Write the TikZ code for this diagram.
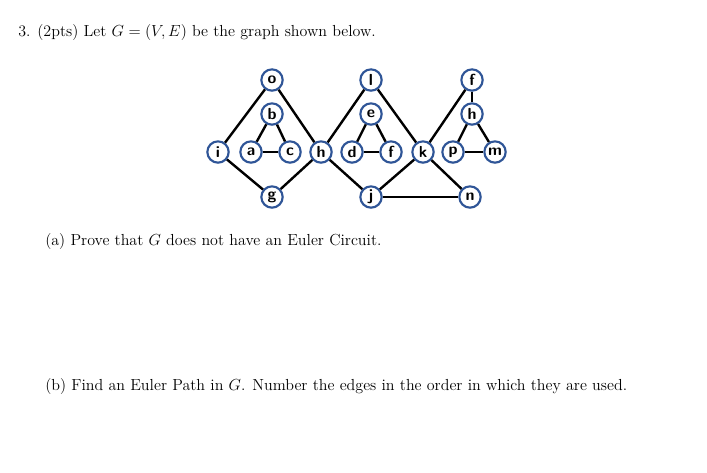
\documentclass[tikz,border=0pt]{standalone}
\begin{document}
\begin{tikzpicture}[x=0.75pt,y=-0.75pt,
 v/.style={circle,draw={rgb,255:red,47;green,85;blue,151},line width=1.6pt,fill=white,minimum size=16pt,inner sep=0pt,font=\sffamily\bfseries\large},
 e/.style={line width=1.8pt},
 txt/.style={anchor=west,inner sep=0pt,font=\fontsize{12}{14}\selectfont}]
\useasboundingbox (0,0) rectangle (707,472);
\node[txt] (t0) at (18,33) {3. (2pts) Let $G=(V,E)$ be the graph shown below.};
\node[txt] (ta) at (45,242) {(a) Prove that $G$ does not have an Euler Circuit.};
\node[txt] (tb) at (45,386) {(b) Find an Euler Path in $G$. Number the edges in the order in which they are used.};
\node[v] (o) at (272,80) {o};
\node[v] (b) at (272,114) {b};
\node[v] (i) at (218,152) {i};
\node[v] (a) at (251,152) {a};
\node[v] (c) at (290,152) {c};
\node[v] (h) at (321,152) {h};
\node[v] (g) at (272,197) {g};
\node[v] (l) at (371,80) {l};
\node[v] (e1) at (371,114) {e};
\node[v] (d) at (352,152) {d};
\node[v] (f) at (391,152) {f};
\node[v] (k) at (423,152) {k};
\node[v] (j) at (371,197) {j};
\node[v] (n) at (470,197) {n};
\node[v] (f2) at (472,80) {f};
\node[v] (h2) at (472,114) {h};
\node[v] (p) at (453,152) {p};
\node[v] (m) at (495,152) {m};
\foreach \u/\w in {i/o,o/h,i/g,g/h,b/a,b/c,a/c,h/l,l/k,h/j,e1/d,e1/f,d/f,k/j,k/n,j/n,k/f2,f2/h2,h2/p,h2/m,p/m}
  \draw[e] (\u) -- (\w);
\end{tikzpicture}
\end{document}
